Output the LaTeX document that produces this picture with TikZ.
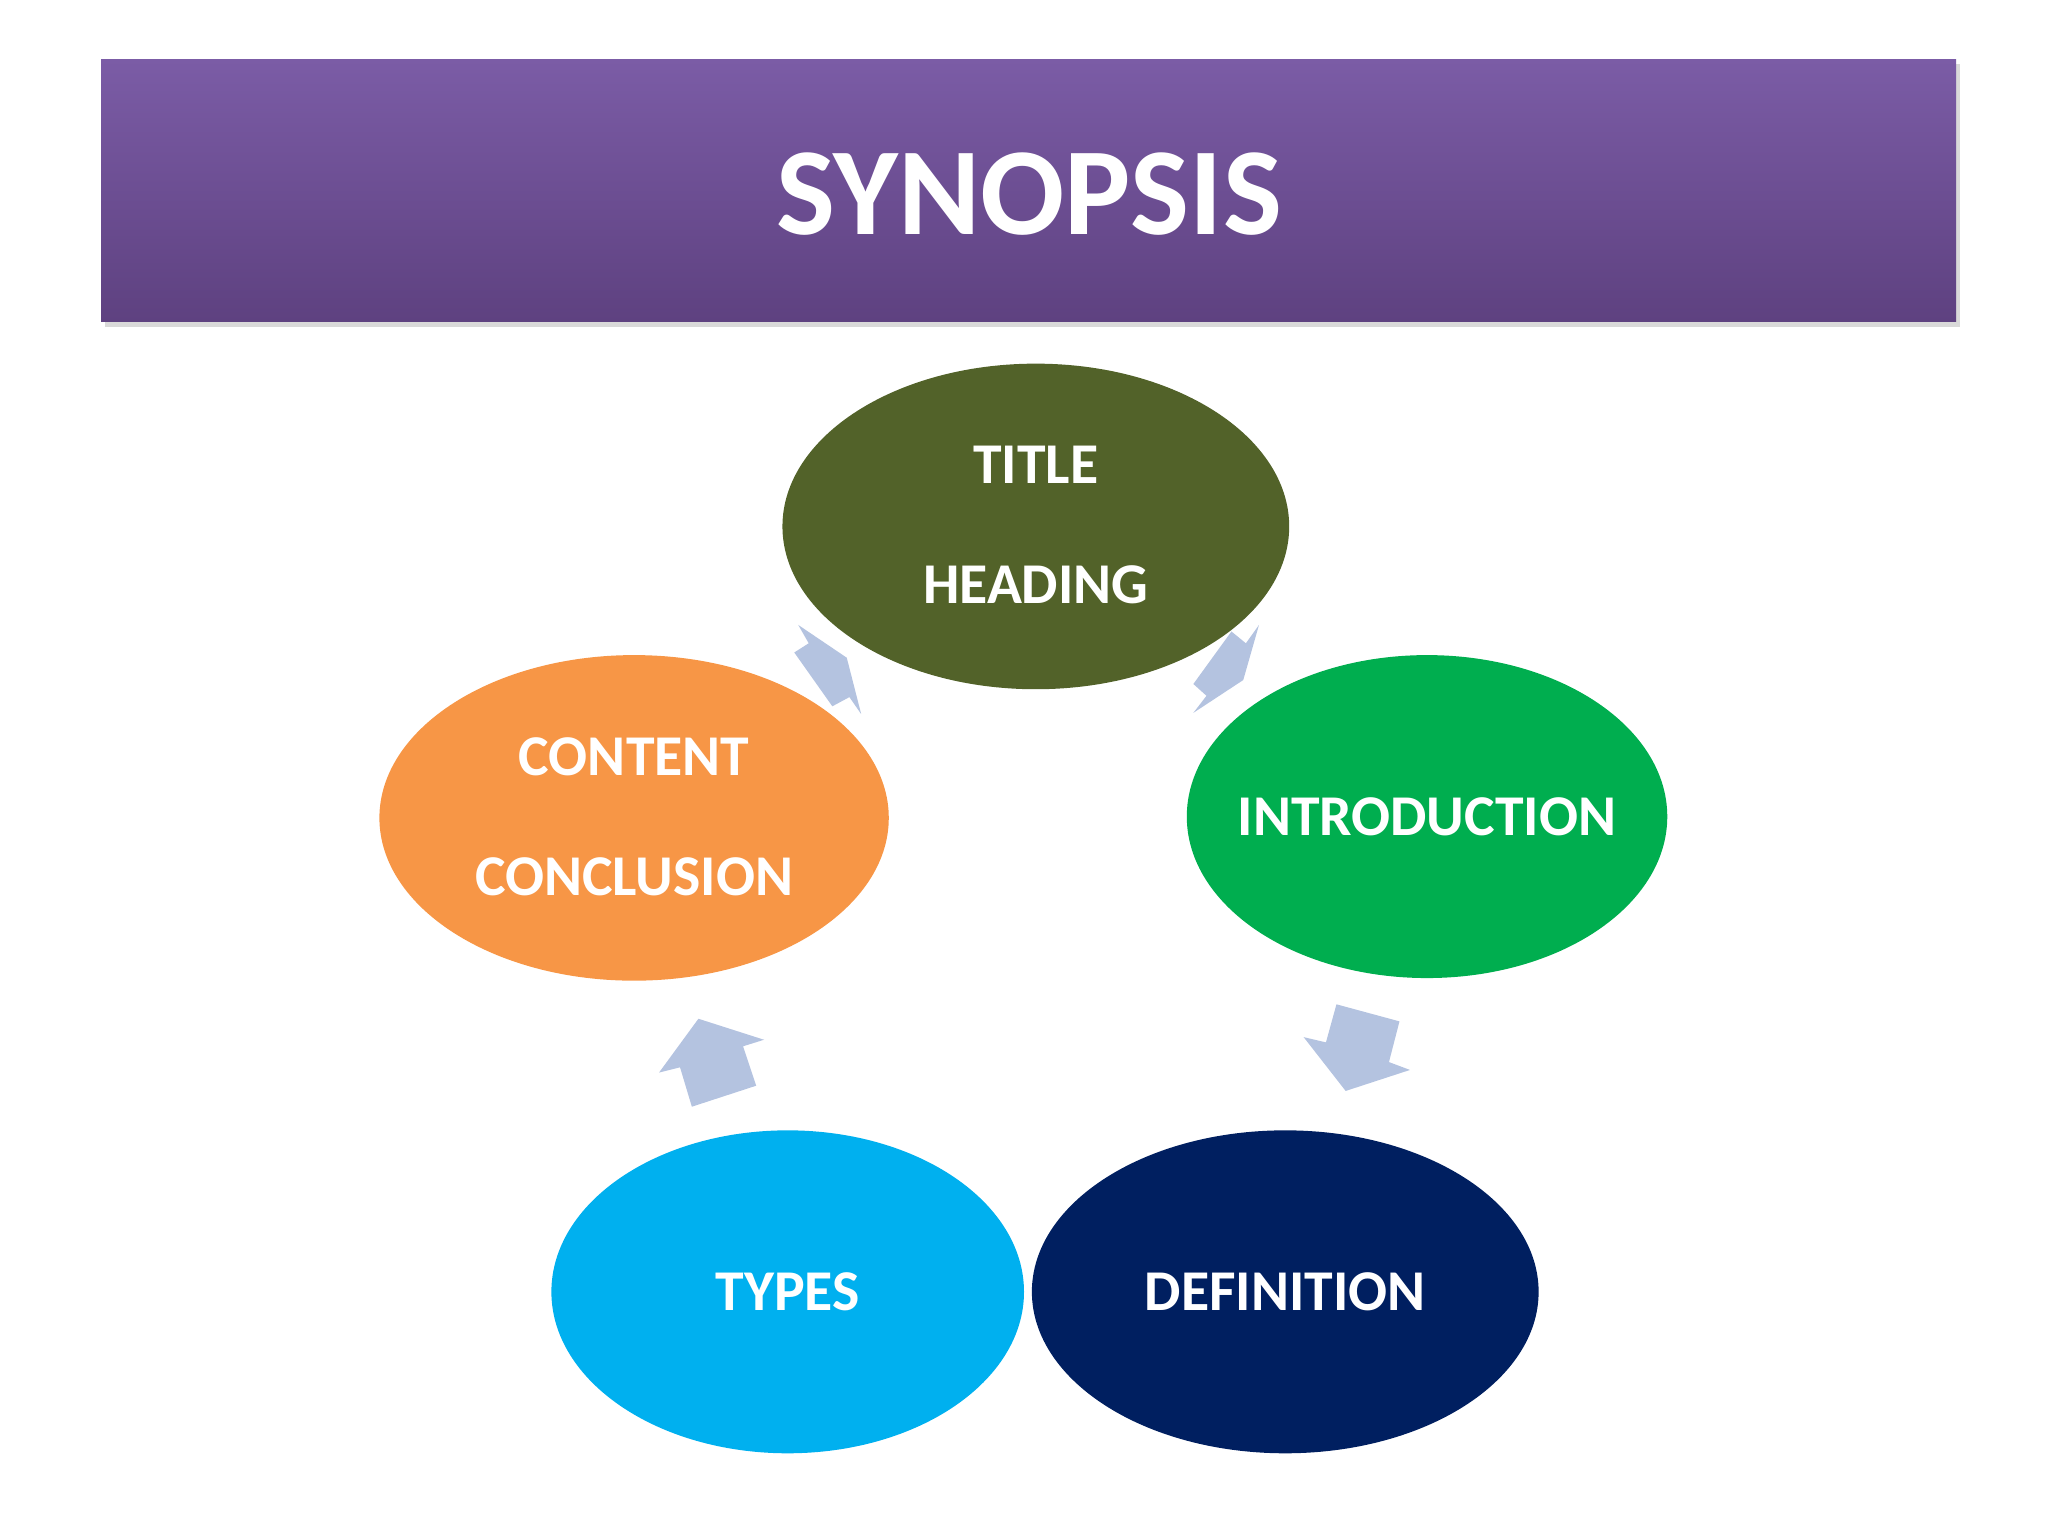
\documentclass[tikz,border=0pt]{standalone}
\usepackage{fontspec}
\setmainfont{Carlito}
\usetikzlibrary{positioning}
\definecolor{bannertop}{HTML}{7B5CA6}
\definecolor{bannerbot}{HTML}{5E4180}
\definecolor{olive}{HTML}{526229}
\definecolor{intro}{HTML}{00AE4F}
\definecolor{navy}{HTML}{001F60}
\definecolor{sky}{HTML}{00B0EF}
\definecolor{orange}{HTML}{F79646}
\definecolor{arrowblue}{HTML}{B4C3E0}
\tikzset{
  topic/.style={draw=none, text=white, font=\bfseries\fontsize{12.5}{26}\selectfont, align=center},
  bigarrow/.style={fill=arrowblue, draw=none}
}
\begin{document}
\begin{tikzpicture}[x=0.01cm,y=-0.01cm]
\useasboundingbox (0,0) rectangle (1560,1170);

% banner
\fill[black!15] (80,49) rectangle (1493,249);
\shade[top color=bannertop, bottom color=bannerbot] (77,45) rectangle (1490,245);
\node[text=white, font=\bfseries\fontsize{27}{30}\selectfont] (title) at (784,148) {SYNOPSIS};

% ellipses
\fill[olive] (789,401) ellipse [x radius=193, y radius=124];
\node[topic] (th) at (789,400) {TITLE\\HEADING};
\fill[intro] (1087,622) ellipse [x radius=183, y radius=123];
\node[topic] (in) at (1087,622) {INTRODUCTION};
\fill[navy] (979,984) ellipse [x radius=193, y radius=123];
\node[topic] (de) at (979,984) {DEFINITION};
\fill[sky] (600,984) ellipse [x radius=180, y radius=123];
\node[topic] (ty) at (600,984) {TYPES};
\fill[orange] (483,623) ellipse [x radius=194, y radius=124];
\node[topic] (cc) at (483,622) {CONTENT\\CONCLUSION};

% arrows
\fill[bigarrow] (608,476) -- (616,490) -- (605,497) -- (634,538) -- (647,531) -- (656,544) -- (645,501) -- cycle;
\fill[bigarrow] (959,476) -- (949,490) -- (938,481) -- (909,521) -- (919,530) -- (909,543) -- (947,518) -- cycle;
\fill[bigarrow] (1025,831) -- (993,790) -- (1010,794) -- (1018,765) -- (1066,778) -- (1058,809) -- (1074,815) -- cycle;
\fill[bigarrow] (532,776) -- (582,792) -- (566,797) -- (576,827) -- (527,843) -- (518,813) -- (502,817) -- cycle;

\end{tikzpicture}
\end{document}
